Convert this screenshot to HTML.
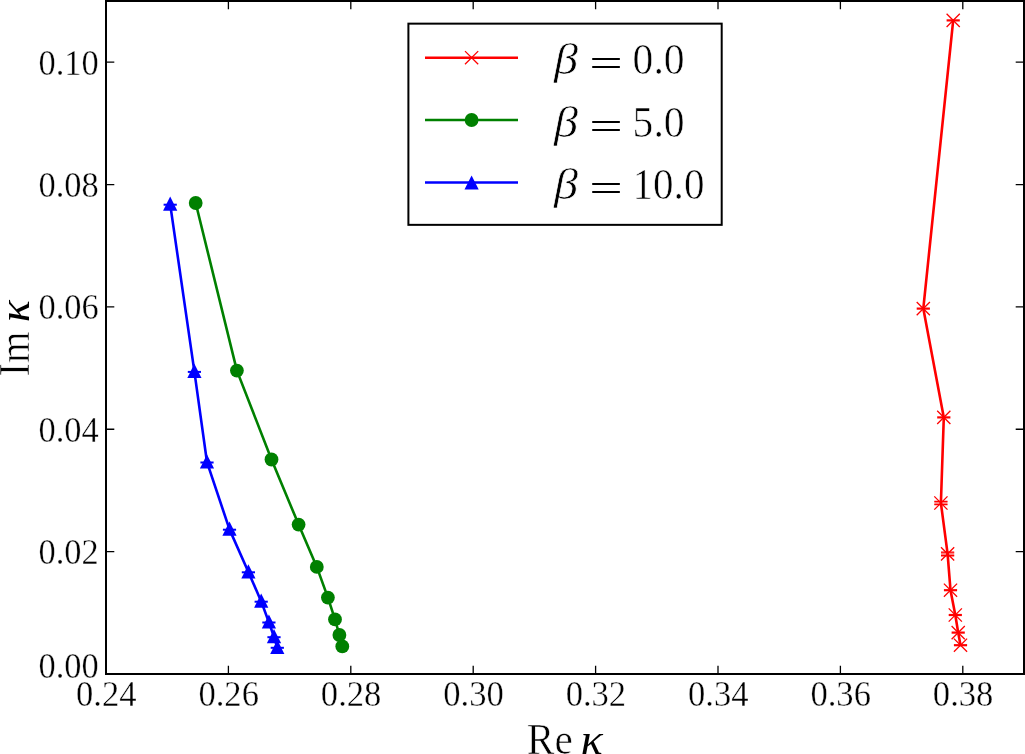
<!DOCTYPE html>
<html lang="en"><head><meta charset="utf-8"><title>Re kappa vs Im kappa</title>
<style>html,body{margin:0;padding:0;background:#fff;overflow:hidden}svg{display:block}text{font-family:"Liberation Serif","DejaVu Serif",serif;fill:#000;stroke:#fff;stroke-width:0.6px}.tk text{stroke-width:0.35px}.eq{stroke:none}.it{font-style:italic}</style></head><body>
<svg width="1025" height="754" viewBox="0 0 1025 754">
<rect x="0" y="0" width="1025" height="754" fill="#fff"/>
<g id="series">
<polyline points="953.2,20.4 923.3,308.6 943.8,417.4 940.9,503.0 947.6,553.9 950.5,590.2 955.3,615.0 958.2,632.6 960.5,645.2" fill="none" stroke="#ff0000" stroke-width="2.6" stroke-linejoin="round" stroke-linecap="butt"/>
<polyline points="195.7,203.0 236.9,370.6 271.5,459.5 298.6,524.6 316.8,566.9 327.9,597.6 335.0,619.4 339.4,635.0 342.3,646.4" fill="none" stroke="#008000" stroke-width="2.6" stroke-linejoin="round" stroke-linecap="butt"/>
<polyline points="170.2,204.4 194.4,371.6 207.0,462.2 229.5,529.4 248.4,572.0 261.2,601.4 268.9,622.2 274.0,636.9 277.3,647.5" fill="none" stroke="#0000ff" stroke-width="2.6" stroke-linejoin="round" stroke-linecap="butt"/>
<path d="M946.6 13.8L959.8 27.0M946.6 27.0L959.8 13.8" stroke="#ff0000" stroke-width="1.3" fill="none"/><path d="M946.6 20.4H959.8" stroke="#ff0000" stroke-width="2.2" fill="none"/>
<path d="M916.7 302.0L929.9 315.2M916.7 315.2L929.9 302.0" stroke="#ff0000" stroke-width="1.3" fill="none"/><path d="M916.7 308.6H929.9" stroke="#ff0000" stroke-width="2.2" fill="none"/>
<path d="M937.2 410.8L950.4 424.0M937.2 424.0L950.4 410.8" stroke="#ff0000" stroke-width="1.3" fill="none"/><path d="M937.2 417.4H950.4" stroke="#ff0000" stroke-width="2.2" fill="none"/>
<path d="M934.3 496.4L947.5 509.6M934.3 509.6L947.5 496.4" stroke="#ff0000" stroke-width="1.3" fill="none"/><path d="M934.3 501.4H947.5M934.3 504.6H947.5" stroke="#ff0000" stroke-width="1.4" fill="none"/><path d="M934.3 503.0H947.5" stroke="#ff0000" stroke-opacity="0.5" stroke-width="3.2" fill="none"/>
<path d="M941.0 547.3L954.2 560.5M941.0 560.5L954.2 547.3" stroke="#ff0000" stroke-width="1.3" fill="none"/><path d="M941.0 552.1H954.2M941.0 555.7H954.2" stroke="#ff0000" stroke-width="1.4" fill="none"/><path d="M941.0 553.9H954.2" stroke="#ff0000" stroke-opacity="0.5" stroke-width="3.6" fill="none"/>
<path d="M943.9 583.6L957.1 596.8M943.9 596.8L957.1 583.6" stroke="#ff0000" stroke-width="1.3" fill="none"/><path d="M943.9 590.2H957.1" stroke="#ff0000" stroke-width="2.2" fill="none"/>
<path d="M948.7 608.4L961.9 621.6M948.7 621.6L961.9 608.4" stroke="#ff0000" stroke-width="1.3" fill="none"/><path d="M948.7 615.0H961.9" stroke="#ff0000" stroke-width="2.2" fill="none"/>
<path d="M951.6 626.0L964.8 639.2M951.6 639.2L964.8 626.0" stroke="#ff0000" stroke-width="1.3" fill="none"/><path d="M951.6 632.6H964.8" stroke="#ff0000" stroke-width="2.2" fill="none"/>
<path d="M953.9 638.6L967.1 651.8M953.9 651.8L967.1 638.6" stroke="#ff0000" stroke-width="1.3" fill="none"/><path d="M953.9 645.2H967.1" stroke="#ff0000" stroke-width="2.2" fill="none"/>
<circle cx="195.7" cy="203.0" r="6.9" fill="#008000"/>
<circle cx="236.9" cy="370.6" r="6.9" fill="#008000"/>
<circle cx="271.5" cy="459.5" r="6.9" fill="#008000"/>
<circle cx="298.6" cy="524.6" r="6.9" fill="#008000"/>
<circle cx="316.8" cy="566.9" r="6.9" fill="#008000"/>
<circle cx="327.9" cy="597.6" r="6.9" fill="#008000"/>
<circle cx="335.0" cy="619.4" r="6.9" fill="#008000"/>
<circle cx="339.4" cy="635.0" r="6.9" fill="#008000"/>
<circle cx="342.3" cy="646.4" r="6.9" fill="#008000"/>
<path d="M170.2 196.6L177.3 210.8H163.1Z" fill="#0000ff"/><path d="M163.6 204.7H176.8" stroke="#0000ff" stroke-width="2" fill="none"/>
<path d="M194.4 363.8L201.5 378.0H187.3Z" fill="#0000ff"/><path d="M187.8 371.9H201.0" stroke="#0000ff" stroke-width="2" fill="none"/>
<path d="M207.0 454.4L214.1 468.6H199.9Z" fill="#0000ff"/><path d="M200.4 462.5H213.6" stroke="#0000ff" stroke-width="2" fill="none"/>
<path d="M229.5 521.6L236.6 535.8H222.4Z" fill="#0000ff"/><path d="M222.9 529.7H236.1" stroke="#0000ff" stroke-width="2" fill="none"/>
<path d="M248.4 564.2L255.5 578.4H241.3Z" fill="#0000ff"/><path d="M241.8 572.3H255.0" stroke="#0000ff" stroke-width="2" fill="none"/>
<path d="M261.2 593.6L268.3 607.8H254.1Z" fill="#0000ff"/><path d="M254.6 601.7H267.8" stroke="#0000ff" stroke-width="2" fill="none"/>
<path d="M268.9 614.4L276.0 628.6H261.8Z" fill="#0000ff"/><path d="M262.3 622.5H275.5" stroke="#0000ff" stroke-width="2" fill="none"/>
<path d="M274.0 629.1L281.1 643.3H266.9Z" fill="#0000ff"/><path d="M267.4 637.2H280.6" stroke="#0000ff" stroke-width="2" fill="none"/>
<path d="M277.3 639.7L284.4 653.9H270.2Z" fill="#0000ff"/><path d="M270.7 647.8H283.9" stroke="#0000ff" stroke-width="2" fill="none"/>
</g>
<g id="ticks" stroke="#000" stroke-width="1.3" fill="none">
<path d="M106.00 674.0V665.7M106.00 1.0V9.3"/>
<path d="M228.40 674.0V665.7M228.40 1.0V9.3"/>
<path d="M350.80 674.0V665.7M350.80 1.0V9.3"/>
<path d="M473.20 674.0V665.7M473.20 1.0V9.3"/>
<path d="M595.60 674.0V665.7M595.60 1.0V9.3"/>
<path d="M718.00 674.0V665.7M718.00 1.0V9.3"/>
<path d="M840.40 674.0V665.7M840.40 1.0V9.3"/>
<path d="M962.80 674.0V665.7M962.80 1.0V9.3"/>
<path d="M106.0 674.00H114.3M1024.0 674.00H1015.7"/>
<path d="M106.0 551.64H114.3M1024.0 551.64H1015.7"/>
<path d="M106.0 429.27H114.3M1024.0 429.27H1015.7"/>
<path d="M106.0 306.91H114.3M1024.0 306.91H1015.7"/>
<path d="M106.0 184.55H114.3M1024.0 184.55H1015.7"/>
<path d="M106.0 62.18H114.3M1024.0 62.18H1015.7"/>
</g>
<rect x="106.0" y="1.0" width="918.0" height="673.0" fill="none" stroke="#000" stroke-width="2"/>
<g id="xticklabels" class="tk" font-size="35.8" text-anchor="middle">
<text x="106.3" y="706.0" textLength="60.5" lengthAdjust="spacingAndGlyphs">0.24</text>
<text x="228.7" y="706.0" textLength="60.5" lengthAdjust="spacingAndGlyphs">0.26</text>
<text x="351.1" y="706.0" textLength="60.5" lengthAdjust="spacingAndGlyphs">0.28</text>
<text x="473.5" y="706.0" textLength="60.5" lengthAdjust="spacingAndGlyphs">0.30</text>
<text x="595.9" y="706.0" textLength="60.5" lengthAdjust="spacingAndGlyphs">0.32</text>
<text x="718.3" y="706.0" textLength="60.5" lengthAdjust="spacingAndGlyphs">0.34</text>
<text x="840.7" y="706.0" textLength="60.5" lengthAdjust="spacingAndGlyphs">0.36</text>
<text x="963.1" y="706.0" textLength="60.5" lengthAdjust="spacingAndGlyphs">0.38</text>
</g>
<g id="yticklabels" class="tk" font-size="35.8" text-anchor="end">
<text x="98.7" y="678.0" textLength="60.2" lengthAdjust="spacingAndGlyphs">0.00</text>
<text x="98.7" y="564.0" textLength="60.2" lengthAdjust="spacingAndGlyphs">0.02</text>
<text x="98.7" y="441.7" textLength="60.2" lengthAdjust="spacingAndGlyphs">0.04</text>
<text x="98.7" y="319.3" textLength="60.2" lengthAdjust="spacingAndGlyphs">0.06</text>
<text x="98.7" y="196.9" textLength="60.2" lengthAdjust="spacingAndGlyphs">0.08</text>
<text x="98.7" y="74.6" textLength="60.2" lengthAdjust="spacingAndGlyphs">0.10</text>
</g>
<g id="xlabel" font-size="44">
<text x="526.8" y="753.6" textLength="46" lengthAdjust="spacingAndGlyphs">Re</text>
<text class="it eq" x="580.8" y="753.6" textLength="22" lengthAdjust="spacingAndGlyphs">κ</text>
</g>
<g id="ylabel" font-size="44" transform="translate(29.3 376.5) rotate(-90)">
<text x="0" y="0" textLength="45.2" lengthAdjust="spacingAndGlyphs">Im</text>
<text class="it eq" x="54.2" y="0" textLength="22" lengthAdjust="spacingAndGlyphs">κ</text>
</g>
<g id="legend">
<rect x="408.4" y="23.65" width="313.3" height="201.2" fill="#fff" stroke="#000" stroke-width="2"/>
<path d="M425 57.7H518" stroke="#ff0000" stroke-width="2.6" fill="none"/>
<path d="M425 120.0H518" stroke="#008000" stroke-width="2.6" fill="none"/>
<path d="M425 182.5H518" stroke="#0000ff" stroke-width="2.6" fill="none"/>
<path d="M465.0 51.1L478.2 64.3M465.0 64.3L478.2 51.1" stroke="#ff0000" stroke-width="1.3" fill="none"/>
<circle cx="471.6" cy="120.0" r="6.9" fill="#008000"/>
<path d="M471.6 175.4L478.7 189.6H464.5Z" fill="#0000ff"/>
<g font-size="43.5">
<text class="it" x="554" y="74.2" textLength="24" lengthAdjust="spacingAndGlyphs">β</text>
<text class="eq" transform="translate(589.2 63.9) scale(1 0.86)" x="0" y="14.3" textLength="33.5" lengthAdjust="spacingAndGlyphs">=</text>
<text x="632.6" y="74.2" textLength="52" lengthAdjust="spacingAndGlyphs">0.0</text>
<text class="it" x="554" y="136.5" textLength="24" lengthAdjust="spacingAndGlyphs">β</text>
<text class="eq" transform="translate(589.2 126.2) scale(1 0.86)" x="0" y="14.3" textLength="33.5" lengthAdjust="spacingAndGlyphs">=</text>
<text x="632.6" y="136.5" textLength="52" lengthAdjust="spacingAndGlyphs">5.0</text>
<text class="it" x="554" y="199.0" textLength="24" lengthAdjust="spacingAndGlyphs">β</text>
<text class="eq" transform="translate(589.2 188.7) scale(1 0.86)" x="0" y="14.3" textLength="33.5" lengthAdjust="spacingAndGlyphs">=</text>
<text x="632.6" y="199.0" textLength="71.8" lengthAdjust="spacingAndGlyphs">10.0</text>
</g></g>
</svg></body></html>
